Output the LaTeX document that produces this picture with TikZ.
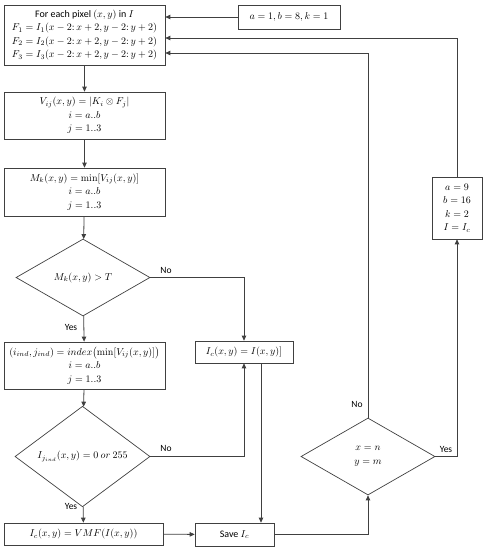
\documentclass[tikz,border=0pt]{standalone}
\usepackage[no-math]{fontspec}
\setmainfont{Carlito}
\usetikzlibrary{arrows.meta,shapes.geometric,calc}
\begin{document}
\begin{tikzpicture}[x=1pt,y=-1pt,
  box/.style={draw=black!75, line width=0.7pt, align=center, inner sep=0pt, font=\fontsize{10}{13.5}\selectfont},
  dia/.style={draw=black!75, line width=0.7pt, diamond, inner sep=0pt, align=center, font=\fontsize{10}{13.5}\selectfont},
  arr/.style={draw=black!75, line width=0.8pt, -{Triangle[length=5pt,width=4.5pt]}},
  lbl/.style={font=\fontsize{9.5}{11}\selectfont, inner sep=0pt}
]
\useasboundingbox (0,0) rectangle (486,550);
\node[box, minimum width=161, minimum height=60] (b1) at (84.5,35)
  {For each pixel $(x,y)$ in $I$\\
   $F_1 = I_1(x-2\colon x+2, y-2\colon y+2)$\\
   $F_2 = I_2(x-2\colon x+2, y-2\colon y+2)$\\
   $F_3 = I_3(x-2\colon x+2, y-2\colon y+2)$};
\node[box, minimum width=102, minimum height=24] (a1) at (289,17) {$a=1, b=8, k=1$};
\node[box, minimum width=161, minimum height=47] (V) at (84.5,115.5)
  {$V_{ij}(x,y) = \left|K_i \otimes F_j\right|$\\ $i = a..b$\\ $j = 1..3$};
\node[box, minimum width=161, minimum height=48] (M) at (84.5,192)
  {$M_k(x,y) = \min[V_{ij}(x,y)]$\\ $i = a..b$\\ $j = 1..3$};
\node[dia, minimum width=134, minimum height=77] (d1) at (83,277.5) {$M_k(x,y) > T$};
\node[box, minimum width=161, minimum height=47] (idx) at (84.5,365.5)
  {$(i_{ind}, j_{ind}) = index\bigl(\min[V_{ij}(x,y)]\bigr)$\\ $i = a..b$\\ $j = 1..3$};
\node[dia, minimum width=135, minimum height=77] (d2) at (82.5,456.5) {$I_{j_{ind}}(x,y) = 0\ or\ 255$};
\node[box, minimum width=98, minimum height=22] (Ic) at (244,352) {$I_c(x,y) = I(x,y)]$};
\node[box, minimum width=159, minimum height=22] (VMF) at (83.5,534) {$I_c(x,y) = VMF(I(x,y))$};
\node[box, minimum width=79, minimum height=23] (Save) at (234.5,534.5) {Save $I_c$};
\node[dia, minimum width=134, minimum height=77] (d3) at (368,456.5) {$x = n$\\ $y = m$};
\node[box, minimum width=50, minimum height=62] (a9) at (457,208)
  {$a = 9$\\ $b = 16$\\ $k = 2$\\ $I = I_c$};
\coordinate (in2) at ($(b1.east)+(0,3)$);
\coordinate (in3) at ($(b1.east)+(0,18)$);
\coordinate (icout) at ($(Ic.south)+(17,0)$);
\draw[arr] (a1.west) -- (a1.west -| b1.east);
\draw[arr] (b1) -- (V);
\draw[arr] (V) -- (M);
\draw[arr] (M) -- (d1);
\draw[arr] (d1) -- (idx);
\draw[arr] (idx) -- (d2);
\draw[arr] (d2) -- (VMF);
\draw[arr] (d1.east) -| (Ic.north);
\draw[arr] (d2.east) -| (Ic.south);
\draw[arr] (icout) -- (icout |- Save.north);
\draw[arr] (VMF) -- (Save);
\draw[arr] (Save.east) -| (d3.south);
\draw[arr] (d3.north) |- (in3);
\draw[arr] (d3.east) -| (a9.south);
\draw[arr] (a9.north) |- (in2);
\node[lbl] (no1) at (166,270) {No};
\node[lbl] (yes1) at (71,327) {Yes};
\node[lbl] (no2) at (166,448) {No};
\node[lbl] (yes2) at (71,506) {Yes};
\node[lbl] (no3) at (357,404) {No};
\node[lbl] (yes3) at (446,449) {Yes};
\end{tikzpicture}
\end{document}
